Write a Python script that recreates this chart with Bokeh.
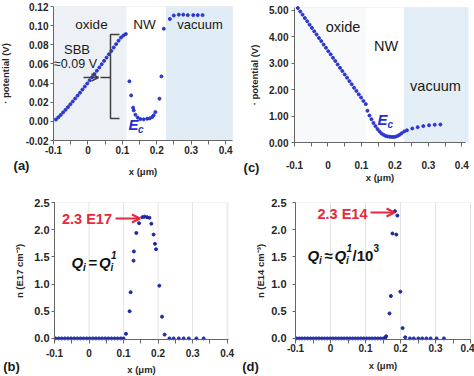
from bokeh.plotting import figure
from bokeh.layouts import column, row
from bokeh.models import (Range1d, FixedTicker, PrintfTickFormatter, Label, Arrow,
                          OpenHead, LinearAxis, BoxAnnotation)
from bokeh.embed import file_html
from bokeh.resources import INLINE

# ---------------- data ----------------
# (a) potential (V), small bias
a_x = [-0.093, -0.086, -0.079, -0.072, -0.065, -0.058, -0.051, -0.044, -0.037, -0.030,
       -0.023, -0.016, -0.009, -0.002, 0.005, 0.012, 0.019, 0.026, 0.033, 0.040,
       0.047, 0.054, 0.061, 0.068, 0.075, 0.082, 0.089, 0.096, 0.103, 0.110,
       0.1205, 0.1255, 0.1313, 0.133, 0.138, 0.1447, 0.1525, 0.162, 0.172, 0.1796,
       0.1866, 0.191, 0.196, 0.2078, 0.2136, 0.2204, 0.238, 0.2495, 0.264, 0.277,
       0.290, 0.306, 0.319, 0.333]
a_y = [0.0019, 0.0042, 0.0067, 0.0094, 0.0121, 0.0149, 0.0179, 0.0208, 0.0239, 0.0269,
       0.0300, 0.0332, 0.0364, 0.0396, 0.0429, 0.0462, 0.0495, 0.0529, 0.0563, 0.0597,
       0.0632, 0.0666, 0.0701, 0.0736, 0.0772, 0.0807, 0.0843, 0.0875, 0.0897, 0.0912,
       0.0418, 0.0271, 0.0143, 0.0115, 0.0070, 0.0039, 0.0024, 0.0021, 0.0028, 0.0031,
       0.0045, 0.0063, 0.0097, 0.0237, 0.0470, 0.0968, 0.1070, 0.1106, 0.1115, 0.1115,
       0.1110, 0.1110, 0.1110, 0.1110]

# (c) potential (V), large bias
c_x = [-0.090, -0.083, -0.076, -0.069, -0.062, -0.055, -0.048, -0.041, -0.034, -0.027,
       -0.020, -0.013, -0.006, 0.001, 0.008, 0.015, 0.022, 0.029, 0.036, 0.043,
       0.050, 0.057, 0.064, 0.071, 0.078, 0.085, 0.092, 0.099, 0.106, 0.113,
       0.118, 0.124, 0.130, 0.136, 0.142, 0.148, 0.154, 0.160, 0.166, 0.172,
       0.178, 0.184, 0.190, 0.196, 0.202, 0.208, 0.214, 0.220, 0.228,
       0.236, 0.252, 0.268, 0.285, 0.302, 0.319, 0.336]
c_y = [5.08, 4.95, 4.83, 4.70, 4.58, 4.45, 4.33, 4.20, 4.08, 3.95,
       3.83, 3.70, 3.58, 3.45, 3.33, 3.20, 3.08, 2.95, 2.82, 2.70,
       2.57, 2.45, 2.32, 2.20, 2.07, 1.95, 1.82, 1.70, 1.57, 1.45,
       1.20, 1.02, 0.88, 0.74, 0.62, 0.51, 0.42, 0.34, 0.29, 0.25,
       0.23, 0.22, 0.21, 0.21, 0.22, 0.25, 0.29, 0.35, 0.42,
       0.46, 0.53, 0.58, 0.62, 0.65, 0.67, 0.68]

# (b) electron density n (E17 cm^-3)
b_x = [-0.097, -0.088, -0.079, -0.070, -0.061, -0.052, -0.043, -0.034, -0.025, -0.016,
       -0.007, 0.002, 0.011, 0.020, 0.029, 0.038, 0.047, 0.056, 0.065, 0.074,
       0.083, 0.092, 0.100,
       0.107, 0.1176, 0.1205, 0.129, 0.130, 0.137, 0.145, 0.1545, 0.161, 0.168,
       0.175, 0.1805, 0.187, 0.191, 0.194, 0.2037, 0.2115, 0.219,
       0.233, 0.245, 0.260, 0.274, 0.289, 0.311, 0.332]
b_y = [0.0] * 23 + [
       0.086, 0.50, 0.85, 1.43, 1.60, 1.94, 2.12, 2.23, 2.24, 2.23,
       2.22, 2.11, 1.91, 1.74, 1.64, 0.97, 0.40, 0.07,
       0.0, 0.0, 0.0, 0.0, 0.0, 0.0, 0.0]

# (d) electron density n (E14 cm^-3)
d_x = [-0.097, -0.089, -0.081, -0.073, -0.065, -0.057, -0.049, -0.041, -0.033, -0.025,
       -0.017, -0.009, -0.001, 0.007, 0.015, 0.023, 0.031, 0.039, 0.047, 0.055,
       0.063, 0.071, 0.079, 0.087, 0.095, 0.103, 0.111, 0.119, 0.127, 0.135,
       0.143, 0.151,
       0.156, 0.159, 0.1686, 0.1725, 0.177, 0.184, 0.188, 0.191, 0.1995, 0.206, 0.2135,
       0.227, 0.238, 0.251, 0.262, 0.274, 0.286, 0.303, 0.324]
d_y = [0.0] * 32 + [
       0.01, 0.04, 0.46, 0.78, 1.93, 2.34, 1.91, 2.26, 0.86, 0.19, 0.02,
       0.0, 0.0, 0.0, 0.0, 0.0, 0.0, 0.0, 0.0]

x_tick_vals = [-0.1, 0.0, 0.1, 0.2, 0.3, 0.4]
x_minor_vals = [-0.05, 0.05, 0.15, 0.25, 0.35]
a_y_ticks = [-0.02, 0.0, 0.02, 0.04, 0.06, 0.08, 0.10, 0.12]
c_y_ticks = [0, 1, 2, 3, 4, 5]
n_y_ticks = [0.0, 0.5, 1.0, 1.5, 2.0, 2.5]

# regions: oxide | NW | vacuum
region_edges = [-0.1, 0.113, 0.227, 0.42]
a_region_colors = ["#edf1f6", "#ffffff", "#e1edf6"]
c_region_colors = ["#f8f9fb", "#ffffff", "#e3eef7"]

FONT = "Liberation Sans"
DOT_AC = "#2b36cf"
DOT_BD = "#1e2a9e"
RED = "#e8283c"
EC_BLUE = "#1f2fd0"
INK = "#1a1a1a"
W, H = 237, 188


def make_panel(L, R, T, B, x0, x1, y0, y1, xlabel_std, xaxis_std, ylabel_std, yaxis_std,
               yticks, yfmt, ylabel, ytick_size):
    """Frame = whole canvas; plot box drawn with fixed-location axes."""
    kx = (x1 - x0) / (R - L)
    ky = (y1 - y0) / (B - T)
    xr = Range1d(x0 - L * kx, x1 + (W - R) * kx)
    yr = Range1d(y0 - (H - B) * ky, y1 + T * ky)
    p = figure(width=W, height=H, x_range=xr, y_range=yr, min_border=0,
               x_axis_location=None, y_axis_location=None,
               output_backend="svg", toolbar_location=None)
    p.grid.visible = False
    p.outline_line_color = None
    p.background_fill_color = "white"
    p.border_fill_color = "white"

    xa = LinearAxis(fixed_location=y0, bounds=(x0, x1),
                    ticker=FixedTicker(ticks=x_tick_vals, minor_ticks=x_minor_vals),
                    formatter=PrintfTickFormatter(format="%.1f"),
                    major_label_overrides={0: "0"}, axis_label="x (μm)")
    ya = LinearAxis(fixed_location=x0, bounds=(y0, y1),
                    ticker=FixedTicker(ticks=yticks),
                    formatter=PrintfTickFormatter(format=yfmt), axis_label=ylabel)
    for ax in (xa, ya):
        ax.axis_line_color = "#666666"
        ax.major_tick_line_color = "#666666"
        ax.minor_tick_line_color = "#666666"
        ax.major_tick_in = 0
        ax.minor_tick_in = 0
        ax.major_label_text_font = FONT
        ax.major_label_text_font_style = "bold"
        ax.major_label_text_color = "#262626"
        ax.axis_label_text_font = FONT
        ax.axis_label_text_font_style = "bold"
        ax.axis_label_text_font_size = "9.5px"
        ax.axis_label_text_color = "#262626"
    xa.major_tick_out = 4
    xa.minor_tick_out = 4
    xa.major_label_text_font_size = "10px"
    xa.major_label_standoff = xlabel_std
    xa.axis_label_standoff = xaxis_std
    ya.major_tick_out = 3
    ya.minor_tick_out = 0
    ya.major_label_text_font_size = ytick_size
    ya.major_label_standoff = ylabel_std
    ya.axis_label_standoff = yaxis_std
    p.add_layout(xa, "below")
    p.add_layout(ya, "left")

    # faint vertical grid lines at the x ticks
    p.segment(x0=x_tick_vals[1:], x1=x_tick_vals[1:], y0=y0, y1=y1,
              line_color="#e3e3e3", line_width=1, level="underlay")
    # plot-area border
    p.add_layout(BoxAnnotation(left=x0, right=x1, bottom=y0, top=y1, fill_alpha=0,
                               line_color="#d9d9d9", line_width=1, level="underlay"))

    def fx(sx):
        return x0 + (sx - L) * kx

    def fy(sy):
        return y1 - (sy - T) * ky
    return p, fx, fy


def txt(p, fx, fy, sx, sy, s, size, color=INK, style="normal", align="center"):
    p.add_layout(Label(x=fx(sx), y=fy(sy), text=s, text_font=FONT, text_font_size=size,
                       text_font_style=style, text_color=color, text_align=align,
                       text_baseline="middle"))


def arrow(p, fx, fy, sx0, sy0, sx1, sy1, color, lw, size):
    p.add_layout(Arrow(end=OpenHead(size=size, line_color=color, line_width=lw),
                       x_start=fx(sx0), y_start=fy(sy0), x_end=fx(sx1), y_end=fy(sy1),
                       line_color=color, line_width=lw))


# ---------------- (a) ----------------
pa, ax_, ay_ = make_panel(53, 232, 6, 140, -0.1, 0.42, -0.02, 0.12, 1, 9, 2, 12,
                          a_y_ticks, "%.2f", "· potential (V)", "10px")
pa.quad(left=region_edges[:-1], right=region_edges[1:], bottom=-0.02, top=0.12,
        fill_color=a_region_colors, line_color=None, level="underlay")
pa.scatter(a_x, a_y, size=3, color=DOT_AC)
txt(pa, ax_, ay_, 91, 24, "oxide", "13.5px")
txt(pa, ax_, ay_, 144, 24, "NW", "13.5px")
txt(pa, ax_, ay_, 199.5, 24, "vacuum", "13px")
txt(pa, ax_, ay_, 76.5, 49, "SBB", "13px")
txt(pa, ax_, ay_, 75, 63, "≈0.09 V", "12.5px")
arrow(pa, ax_, ay_, 83, 77, 98, 77, "#404040", 1.5, 7)
pa.line([ax_(119), ax_(110), ax_(110), ax_(119)], [ay_(34), ay_(34), ay_(118), ay_(118)],
        line_color="#404040", line_width=1.5)
pa.line([ax_(100), ax_(110)], [ay_(77), ay_(77)], line_color="#404040", line_width=1.5)
txt(pa, ax_, ay_, 128, 124, "E", "15px", EC_BLUE, "bold italic", "left")
txt(pa, ax_, ay_, 137.5, 128.5, "c", "10px", EC_BLUE, "bold italic", "left")
txt(pa, ax_, ay_, 21, 165, "(a)", "13px", INK, "bold")

# ---------------- (c) ----------------
pc, cx_, cy_ = make_panel(57, 228, 7, 142, -0.1, 0.411, 0.0, 5.1, 14, 0, 3, 6,
                          c_y_ticks, "%.2f", "· potential (V)", "10px")
pc.quad(left=region_edges[:-1], right=region_edges[1:], bottom=0.0, top=5.1,
        fill_color=c_region_colors, line_color=None, level="underlay")
pc.scatter(c_x, c_y, size=3, color=DOT_AC)
txt(pc, cx_, cy_, 105.5, 26, "oxide", "14.5px")
txt(pc, cx_, cy_, 148.5, 45, "NW", "14.5px")
txt(pc, cx_, cy_, 198, 85, "vacuum", "14.5px")
txt(pc, cx_, cy_, 140, 119, "E", "15px", EC_BLUE, "bold italic", "left")
txt(pc, cx_, cy_, 150, 124, "c", "10px", EC_BLUE, "bold italic", "left")
txt(pc, cx_, cy_, 14, 167, "(c)", "13px", INK, "bold")

# ---------------- (b) ----------------
pb, bx_, by_ = make_panel(54, 228, 14, 151, -0.1, 0.404, -0.02, 2.5, 5, 4, 2, 6,
                          n_y_ticks, "%.1f", "n (E17 cm⁻³)", "11px")
pb.scatter(b_x, b_y, size=3, color=DOT_BD)
txt(pb, bx_, by_, 86.5, 30, "2.3 E17", "14.5px", RED, "bold")
arrow(pb, bx_, by_, 115, 30, 139.5, 30, RED, 2, 8)
txt(pb, bx_, by_, 71, 74, "Q", "15px", "#111111", "bold italic", "left")
txt(pb, bx_, by_, 82.5, 79, "i", "10px", "#111111", "bold italic", "left")
txt(pb, bx_, by_, 88, 74, "=", "15px", "#111111", "bold", "left")
txt(pb, bx_, by_, 98.5, 74, "Q", "15px", "#111111", "bold italic", "left")
txt(pb, bx_, by_, 110, 79, "i", "10px", "#111111", "bold italic", "left")
txt(pb, bx_, by_, 110.5, 66.5, "1", "10px", "#111111", "bold italic", "left")
txt(pb, bx_, by_, 11, 178, "(b)", "13px", INK, "bold")

# ---------------- (d) ----------------
pd_, dx_, dy_ = make_panel(58, 233, 14, 151, -0.1, 0.4, -0.02, 2.5, 0, 5, 6, 2,
                           n_y_ticks, "%.1f", "n (E14 cm⁻³)", "11px")
pd_.scatter(d_x, d_y, size=3, color=DOT_BD)
txt(pd_, dx_, dy_, 105, 25, "2.3 E14", "14.5px", RED, "bold")
arrow(pd_, dx_, dy_, 133, 24, 157, 24, RED, 2, 8)
txt(pd_, dx_, dy_, 70, 66.7, "Q", "15px", "#111111", "bold italic", "left")
txt(pd_, dx_, dy_, 81.5, 71.5, "i", "10px", "#111111", "bold italic", "left")
txt(pd_, dx_, dy_, 87, 66.7, "≈", "15px", "#111111", "bold", "left")
txt(pd_, dx_, dy_, 97, 66.7, "Q", "15px", "#111111", "bold italic", "left")
txt(pd_, dx_, dy_, 108.5, 71.5, "i", "10px", "#111111", "bold italic", "left")
txt(pd_, dx_, dy_, 109, 59.5, "1", "10px", "#111111", "bold italic", "left")
txt(pd_, dx_, dy_, 115, 66.7, "/10", "15px", "#111111", "bold", "left")
txt(pd_, dx_, dy_, 136, 59.5, "3", "10px", "#111111", "bold", "left")
txt(pd_, dx_, dy_, 13, 178, "(d)", "13px", INK, "bold")

layout = column(row(pa, pc), row(pb, pd_))
open("out.html", "w").write(file_html(layout, INLINE))
